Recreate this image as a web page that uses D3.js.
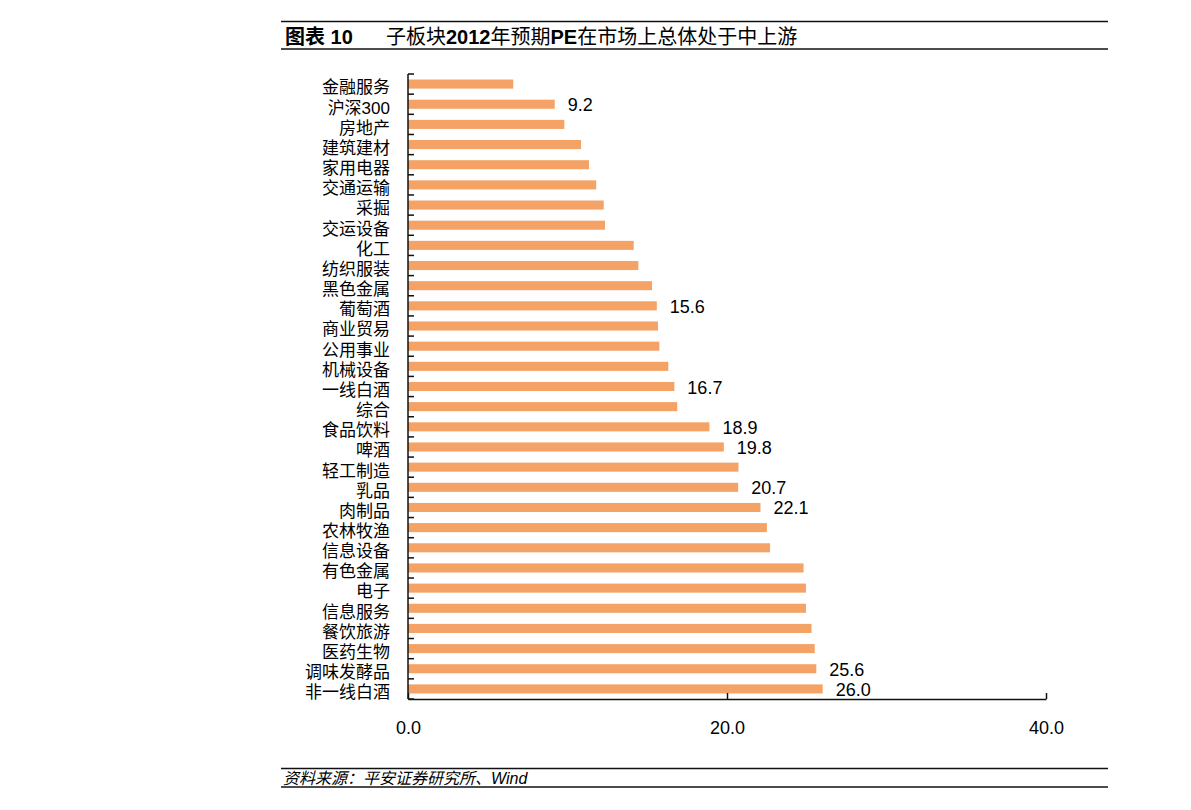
<!DOCTYPE html>
<html>
<head>
<meta charset="utf-8">
<script src="https://cdn.jsdelivr.net/npm/d3@7"></script>
<style>
  body { margin: 0; background: #fff; }
  svg text { font-family: "Liberation Sans", Arial, "Noto Sans CJK SC", sans-serif; fill: #000; }
</style>
</head>
<body>
<div id="chart"></div>
<script>
const categories = ["金融服务", "沪深300", "房地产", "建筑建材", "家用电器", "交通运输", "采掘", "交运设备",
    "化工", "纺织服装", "黑色金属", "葡萄酒", "商业贸易", "公用事业", "机械设备", "一线白酒", "综合",
    "食品饮料", "啤酒", "轻工制造", "乳品", "肉制品", "农林牧渔", "信息设备", "有色金属", "电子",
    "信息服务", "餐饮旅游", "医药生物", "调味发酵品", "非一线白酒"];
const peValues = [6.6, 9.2, 9.8, 10.85, 11.35, 11.8, 12.27, 12.35,
    14.15, 14.44, 15.3, 15.6, 15.67, 15.76, 16.32, 16.7, 16.88,
    18.9, 19.8, 20.72, 20.7, 22.1, 22.5, 22.7, 24.8, 24.95,
    24.95, 25.3, 25.5, 25.6, 26.0];
// only these get a value label in the original
const labelled = ["沪深300", "葡萄酒", "一线白酒", "食品饮料", "啤酒", "乳品", "肉制品", "调味发酵品", "非一线白酒"];
const xTicks = [0, 20, 40];

const width = 1191;
const height = 810;
const plot = { left: 408, right: 1046, top: 74, bottom: 699 };

const svg = d3.select("#chart")
    .append("svg")
    .attr("width", width)
    .attr("height", height);

// header
svg.append("line")
    .attr("x1", 281).attr("x2", 1108)
    .attr("y1", 21.5).attr("y2", 21.5)
    .attr("stroke", "#111").attr("stroke-width", 1.5);
svg.append("line")
    .attr("x1", 281).attr("x2", 1108)
    .attr("y1", 49).attr("y2", 49)
    .attr("stroke", "#111").attr("stroke-width", 1.5);

const title = svg.append("text")
    .attr("x", 285)
    .attr("y", 44)
    .style("font-size", "20px");
title.append("tspan").attr("font-weight", "bold").text("图表 10");
title.append("tspan").attr("x", 386).text("子板块");
title.append("tspan").attr("font-weight", "bold").text("2012");
title.append("tspan").text("年预期");
title.append("tspan").attr("font-weight", "bold").text("PE");
title.append("tspan").text("在市场上总体处于中上游");

const data = categories.map((c, i) => ({ name: c, value: peValues[i] }));

const x = d3.scaleLinear()
    .domain([0, 40])
    .range([plot.left, plot.right]);

const y = d3.scaleBand()
    .domain(categories)
    .range([plot.top, plot.bottom])
    .paddingInner(0.55)
    .paddingOuter(0.275);

const step = y.step();

// bars
svg.append("g")
    .selectAll("rect")
    .data(data)
    .enter().append("rect")
    .attr("x", x(0))
    .attr("y", d => y(d.name))
    .attr("width", d => x(d.value) - x(0))
    .attr("height", y.bandwidth())
    .attr("fill", "#F4A266");

// value labels
svg.append("g")
    .selectAll("text")
    .data(data.filter(d => labelled.includes(d.name)))
    .enter().append("text")
    .attr("x", d => x(d.value) + 13)
    .attr("y", d => y(d.name) + y.bandwidth() / 2 + 1)
    .attr("dominant-baseline", "central")
    .style("font-size", "18px")
    .text(d => d3.format(".1f")(d.value));

// category axis
const yAxis = svg.append("g")
    .attr("transform", `translate(${plot.left},0)`)
    .call(d3.axisLeft(y).tickSize(0).tickPadding(18));
yAxis.select(".domain").remove();
yAxis.selectAll("text")
    .attr("dy", "0.55em")
    .style("font-size", "17px")
    .style("font-family", "'Liberation Sans', 'Noto Sans CJK SC', sans-serif");

// boundary ticks of the category axis
svg.append("g")
    .selectAll("line")
    .data(d3.range(categories.length + 1))
    .enter().append("line")
    .attr("x1", plot.left).attr("x2", plot.left + 6)
    .attr("y1", i => plot.top + i * step)
    .attr("y2", i => plot.top + i * step)
    .attr("stroke", "#111").attr("stroke-width", 1.5);

svg.append("line")
    .attr("x1", plot.left).attr("x2", plot.left)
    .attr("y1", plot.top).attr("y2", plot.bottom)
    .attr("stroke", "#111").attr("stroke-width", 1.5);

// value axis
const xAxis = svg.append("g")
    .attr("transform", `translate(0,${plot.bottom})`)
    .call(d3.axisBottom(x).tickValues(xTicks).tickSize(-6).tickSizeOuter(0).tickPadding(22).tickFormat(d3.format(".1f")));
xAxis.select(".domain").attr("stroke", "#111").attr("stroke-width", 1.5);
xAxis.selectAll(".tick line").attr("stroke", "#111").attr("stroke-width", 1.5);
xAxis.selectAll("text").style("font-size", "18px");

// footer
svg.append("line")
    .attr("x1", 281).attr("x2", 1108)
    .attr("y1", 768.5).attr("y2", 768.5)
    .attr("stroke", "#111").attr("stroke-width", 1.5);
svg.append("line")
    .attr("x1", 281).attr("x2", 1108)
    .attr("y1", 787).attr("y2", 787)
    .attr("stroke", "#111").attr("stroke-width", 1.5);
svg.append("text")
    .attr("x", 283)
    .attr("y", 784)
    .style("font-size", "16px")
    .style("font-style", "italic")
    .text("资料来源：平安证券研究所、Wind");
</script>
</body>
</html>
